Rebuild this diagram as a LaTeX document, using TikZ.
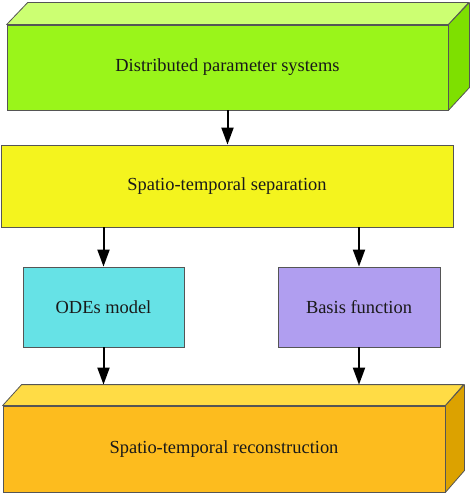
\documentclass[tikz,border=0pt]{standalone}
\usepackage{fontspec}
\setmainfont{Liberation Serif}
\usetikzlibrary{arrows.meta,calc}
\definecolor{dpsfront}{HTML}{9AF51A}
\definecolor{dpstop}{HTML}{CCFF72}
\definecolor{dpsside}{HTML}{7EE000}
\definecolor{sepfill}{HTML}{F4F41E}
\definecolor{odefill}{HTML}{66E2E6}
\definecolor{basfill}{HTML}{B09EF0}
\definecolor{recfront}{HTML}{FDBC1E}
\definecolor{rectop}{HTML}{FFDC45}
\definecolor{recside}{HTML}{DCA200}
\definecolor{edgegray}{HTML}{555555}
\begin{document}
\begin{tikzpicture}[x=1bp,y=-1bp,
  box/.style={draw=edgegray, line width=0.8bp, inner sep=0pt,
    font=\fontsize{18.5}{22}\selectfont, text=black!90},
  face/.style={draw=edgegray, line width=0.8bp, line join=round},
  conn/.style={-{Triangle[length=17bp,width=12bp]}, line width=2bp, black}]
\useasboundingbox (0,0) rectangle (474,495);
% top 3D box
\node[box, fill=dpsfront, minimum width=441bp, minimum height=85bp] (dps) at (227.5,67.5) {Distributed parameter systems};
\draw[face, fill=dpstop] (dps.north west) -- ++(21,-22) -- ++(441,0) -- (dps.north east) -- cycle;
\draw[face, fill=dpsside] (dps.north east) -- ++(21,-22) -- ++(0,85) -- (dps.south east) -- cycle;
% separation
\node[box, fill=sepfill, minimum width=452bp, minimum height=82bp] (sep) at (227,186) {Spatio-temporal separation};
% middle boxes
\node[box, fill=odefill, minimum width=161bp, minimum height=80bp] (odes) at (103.5,307) {ODEs model};
\node[box, fill=basfill, minimum width=162bp, minimum height=80bp] (bas) at (359,307) {Basis function};
% bottom 3D box
\node[box, fill=recfront, minimum width=442bp, minimum height=86bp] (rec) at (224,449) {Spatio-temporal reconstruction};
\draw[face, fill=rectop] (rec.north west) -- ++(19,-21) -- ++(442,0) -- (rec.north east) -- cycle;
\draw[face, fill=recside] (rec.north east) -- ++(19,-21) -- ++(0,86) -- (rec.south east) -- cycle;
\coordinate (recback) at ($(rec.north)+(0,-21)$);
% connectors
\draw[conn] (dps.south) -- (dps.south |- sep.north);
\draw[conn] (odes.north |- sep.south) -- (odes.north);
\draw[conn] (bas.north |- sep.south) -- (bas.north);
\draw[conn] (odes.south) -- (odes.south |- recback);
\draw[conn] (bas.south) -- (bas.south |- recback);
\end{tikzpicture}
\end{document}
